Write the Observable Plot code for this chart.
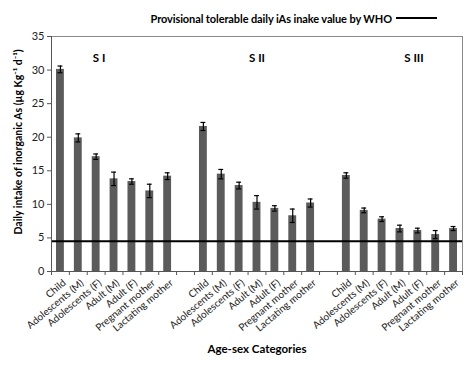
<!DOCTYPE html>
<html><head><meta charset="utf-8">
<script src="https://cdn.jsdelivr.net/npm/d3@7"></script>
<script src="https://cdn.jsdelivr.net/npm/@observablehq/plot@0.6"></script>
<style>
body{margin:0;background:#fff;font-family:Lato,"Open Sans",sans-serif;}
#title{height:30px;width:474px;display:flex;justify-content:flex-end;align-items:center;box-sizing:border-box;padding:6px 37px 0 0;}
#title span{font-weight:bold;font-size:11px;color:#000;white-space:nowrap;letter-spacing:-0.1px;}
#title i{display:block;margin-left:4px;width:41px;height:0;border-top:2px solid #000;}
</style></head>
<body>
<div id="title"><span>Provisional tolerable daily iAs inake value by WHO</span><i></i></div>
<div id="chart"></div>
<script>
const groups = ["S I", "S II", "S III"];
const categories = ["Child", "Adolescents (M)", "Adolescents (F)", "Adult (M)", "Adult (F)", "Pregnant mother", "Lactating mother"];
const s1Values = [30.1, 19.9, 17.1, 13.8, 13.4, 12.0, 14.2];
const s1Errors = [0.5, 0.6, 0.4, 1.0, 0.4, 1.0, 0.5];
const s2Values = [21.6, 14.5, 12.8, 10.3, 9.4, 8.3, 10.2];
const s2Errors = [0.6, 0.7, 0.5, 1.0, 0.4, 1.0, 0.6];
const s3Values = [14.3, 9.1, 7.8, 6.4, 6.1, 5.5, 6.4];
const s3Errors = [0.4, 0.35, 0.35, 0.5, 0.35, 0.6, 0.3];
const whoLimit = 4.5;
const yTicks = [0, 5, 10, 15, 20, 25, 30, 35];

const seriesValues = [s1Values, s2Values, s3Values];
const seriesErrors = [s1Errors, s2Errors, s3Errors];
const slotsPerGroup = categories.length + 1;
const nSlots = groups.length * slotsPerGroup - 1;
const data = [];
groups.forEach((g, gi) => categories.forEach((c, ci) => {
  const v = seriesValues[gi][ci], e = seriesErrors[gi][ci];
  data.push({group: g, cat: c, slot: gi * slotsPerGroup + ci, v, lo: v - e, hi: v + e});
}));
const groupLabels = groups.map((g, gi) => ({g, slot: gi * slotsPerGroup + categories.length / 2}));
const groupDx = [-15, 0, 14];

const font = "Lato, 'Open Sans', sans-serif";
const chart = Plot.plot({
  width: 474, height: 340,
  marginLeft: 51, marginRight: 12, marginTop: 6, marginBottom: 99,
  style: {fontFamily: font, fontSize: "11px", color: "#222", background: "#fff", overflow: "visible"},
  x: {domain: [0, nSlots], axis: null},
  y: {domain: [0, 35], axis: null},
  marks: [
    Plot.frame({stroke: "#8a8a8a"}),
    Plot.rectY(data, {x1: "slot", x2: d => d.slot + 1, y: "v", fill: "#5b5b5b", insetLeft: 5, insetRight: 5}),
    Plot.ruleX(data, {x: d => d.slot + 0.5, y1: "lo", y2: "hi", stroke: "#000", strokeWidth: 1.2}),
    Plot.ruleY(data, {y: "hi", x1: "slot", x2: d => d.slot + 1, insetLeft: 6.5, insetRight: 6.5, stroke: "#000", strokeWidth: 1.2}),
    Plot.ruleY(data, {y: "lo", x1: "slot", x2: d => d.slot + 1, insetLeft: 6.5, insetRight: 6.5, stroke: "#000", strokeWidth: 1.2}),
    Plot.ruleY([whoLimit], {stroke: "#000", strokeWidth: 2}),
    Plot.axisY({ticks: yTicks, tickSize: 4, tickPadding: 3, label: null, stroke: "#555", fontSize: 11}),
    Plot.ruleX([0], {stroke: "#555"}),
    Plot.ruleY([0], {stroke: "#555"}),
    Plot.axisX({ticks: d3.range(0, nSlots + 1), tickSize: 4, tickFormat: () => "", label: null, stroke: "#555"}),
    Plot.text(data, {x: d => d.slot + 0.5, y: 0, text: "cat", rotate: -40, textAnchor: "end", dx: 4, dy: 10, fontSize: 10, fill: "#222"}),
    ...groupLabels.map((d, i) => Plot.text([d], {x: "slot", text: "g", frameAnchor: "top", dy: 17, dx: groupDx[i], fontWeight: "bold", fontSize: 11.5, fill: "#000"})),
    Plot.text(["Daily intake of inorganic As (µg Kg⁻¹ d⁻¹)"], {x: 0, y: 19.3, rotate: -90, dx: -33, fontWeight: "bold", fontSize: 10.5, fill: "#000"}),
    Plot.text(["Age-sex Categories"], {frameAnchor: "bottom", dy: 81, fontWeight: "bold", fontSize: 11.5, fill: "#000"})
  ]
});
document.getElementById("chart").appendChild(chart);
</script>
</body></html>
